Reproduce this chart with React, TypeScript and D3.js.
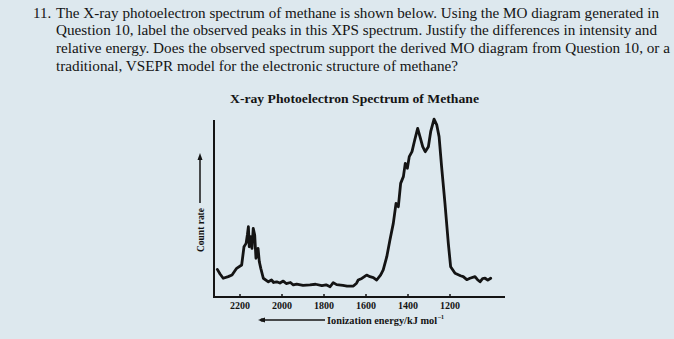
import React from "react";
import * as d3 from "d3";

const questionNumber = "11.";
const questionLines = [
  "The X-ray photoelectron spectrum of methane is shown below. Using the MO diagram generated in",
  "Question 10, label the observed peaks in this XPS spectrum. Justify the differences in intensity and",
  "relative energy. Does the observed spectrum support the derived MO diagram from Question 10, or a",
  "traditional, VSEPR model for the electronic structure of methane?",
];
const questionWidths = [603, 601, 614, 402];

const chartTitle = "X-ray Photoelectron Spectrum of Methane";
const xTicks = [2200, 2000, 1800, 1600, 1400, 1200];
const yLabel = "Count rate";
const xLabel = "Ionization energy/kJ mol";
const xLabelSup = "–1";

// Ionization energy (kJ/mol) and count rate (arbitrary units, 0-100)
const energy = [
  2308, 2295, 2280, 2256, 2238, 2216, 2192, 2181, 2171, 2165, 2160, 2156, 2149, 2143, 2137, 2130,
  2124, 2114, 2108, 2101, 2089, 2065, 2050, 2040, 2025, 2010, 1994, 1980, 1960, 1946, 1930, 1900,
  1867, 1840, 1810, 1790, 1771, 1756, 1740, 1710, 1690, 1660, 1645, 1637, 1620, 1597, 1581, 1565,
  1549, 1530, 1518, 1501, 1486, 1470, 1457, 1446, 1435, 1422, 1413, 1403, 1394, 1381, 1368, 1354,
  1343, 1330, 1318, 1303, 1292, 1276, 1263, 1252, 1240, 1224, 1208, 1197, 1176, 1150, 1137, 1120,
  1105, 1081, 1070, 1057, 1045, 1033, 1020, 1006,
];
const counts = [
  15.6, 13.0, 10.6, 11.5, 12.4, 16.2, 18.1, 28.4, 30.3, 35.0, 39.7, 28.4, 34.1, 27.5, 38.8, 35.0,
  21.9, 27.5, 19.9, 16.2, 10.6, 8.6, 9.6, 8.2, 8.6, 7.9, 9.0, 7.6, 8.2, 6.8, 7.3, 6.6,
  6.8, 7.2, 6.4, 6.9, 5.8, 8.1, 7.0, 6.6, 6.2, 6.2, 7.8, 9.6, 10.5, 12.4, 11.5, 11.0,
  9.6, 12.5, 15.3, 22.8, 32.2, 41.6, 52.9, 51.0, 64.2, 68.0, 75.5, 72.7, 79.3, 82.1, 88.7, 95.3,
  90.6, 84.9, 82.1, 84.9, 93.4, 100.5, 97.2, 90.6, 73.6, 52.9, 30.3, 17.1, 13.4, 12.0, 11.5, 9.8,
  10.6, 11.5, 9.9, 8.6, 10.4, 10.6, 9.5, 10.6,
];

const W = 674;
const H = 339;
const serif = "'Liberation Serif', 'Times New Roman', serif";
const ink = "#141414";

export default function App() {
  const x = d3.scaleLinear().domain([2200, 1200]).range([240, 450]);
  const y = d3.scaleLinear().domain([0, 100]).range([297, 120]);
  const pts: [number, number][] = energy.map((e, i) => [e, counts[i]]);
  const line = d3
    .line<[number, number]>()
    .x((d) => x(d[0]))
    .y((d) => y(d[1]));

  const axisLeft = 214;
  const axisRight = 505;
  const axisBottom = y(0);
  const axisTop = y(100);

  return (
    <svg
      width={W}
      height={H}
      style={{ position: "absolute", left: 0, top: 0, display: "block" }}
    >
      <rect x={0} y={0} width={W} height={H} fill="#dde8ee" />
      {/* Question text */}
      <g fontFamily={serif} fontSize={15} fill={ink}>
        <text x={33} y={17.5}>{questionNumber}</text>
        {questionLines.map((l, i) => (
          <text
            key={i}
            x={56}
            y={17.5 + i * 17.7}
            textLength={questionWidths[i]}
            lengthAdjust="spacingAndGlyphs"
          >
            {l}
          </text>
        ))}
      </g>
      {/* Title */}
      <text
        x={230}
        y={103}
        fontFamily={serif}
        fontWeight="bold"
        fontSize={13.5}
        fill={ink}
        textLength={249}
        lengthAdjust="spacingAndGlyphs"
      >
        {chartTitle}
      </text>
      {/* Axes */}
      <line x1={axisLeft} x2={axisLeft} y1={axisTop} y2={axisBottom + 1} stroke={ink} strokeWidth={2} />
      <line x1={axisLeft - 1} x2={axisRight} y1={axisBottom} y2={axisBottom} stroke={ink} strokeWidth={2} />
      {xTicks.map((t) => (
        <g key={t}>
          <line x1={x(t)} x2={x(t)} y1={axisBottom} y2={axisBottom - 3} stroke={ink} strokeWidth={1.5} />
          <text
            x={x(t)}
            y={309}
            textAnchor="middle"
            fontFamily={serif}
            fontWeight="bold"
            fontSize={10}
            fill={ink}
            textLength={20}
            lengthAdjust="spacingAndGlyphs"
          >
            {t}
          </text>
        </g>
      ))}
      {/* X-axis label with arrow */}
      <line x1={262} x2={325} y1={320} y2={320} stroke={ink} strokeWidth={1.5} />
      <polygon points="258,320 265,317.5 265,322.5" fill={ink} />
      <circle cx={262} cy={320} r={1.8} fill={ink} />
      <text
        x={327}
        y={323.5}
        fontFamily={serif}
        fontWeight="bold"
        fontSize={10}
        fill={ink}
        textLength={110}
        lengthAdjust="spacingAndGlyphs"
      >
        {xLabel}
      </text>
      <text x={438} y={319} fontFamily={serif} fontWeight="bold" fontSize={6} fill={ink}>
        {xLabelSup}
      </text>
      {/* Y-axis label with arrow */}
      <line x1={200} x2={200} y1={203} y2={158} stroke={ink} strokeWidth={1.5} />
      <polygon points="200,153 197.5,160 202.5,160" fill={ink} />
      <text
        transform="translate(203.5,230) rotate(-90)"
        textAnchor="middle"
        fontFamily={serif}
        fontWeight="bold"
        fontSize={10}
        fill={ink}
        textLength={44}
        lengthAdjust="spacingAndGlyphs"
      >
        {yLabel}
      </text>
      {/* Spectrum */}
      <path
        d={line(pts) || ""}
        fill="none"
        stroke={ink}
        strokeWidth={2.8}
        strokeLinejoin="round"
        strokeLinecap="round"
      />
    </svg>
  );
}
